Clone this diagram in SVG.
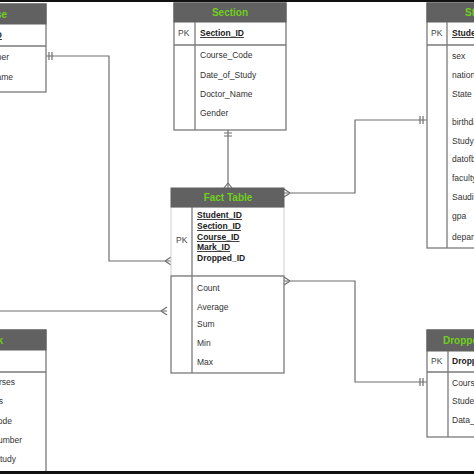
<svg xmlns="http://www.w3.org/2000/svg" width="474" height="474" viewBox="0 0 474 474">
<style>
.box{fill:#fff;stroke:#7a7a7a;stroke-width:1.3}
.faint{fill:#fff;stroke:#d0d0d0;stroke-width:1}
.hd{fill:#616161;stroke:#616161;stroke-width:1}
.ln{fill:none;stroke:#7a7a7a;stroke-width:1.3}
.cn{fill:none;stroke:#6e6e6e;stroke-width:1.2}
.ht{font-family:"Liberation Sans",Arial,sans-serif;font-size:10px;font-weight:bold;fill:#6fd01c}
.t{font-family:"Liberation Sans",Arial,sans-serif;font-size:8.5px;fill:#333}
.k{font-family:"Liberation Sans",Arial,sans-serif;font-size:8.5px;font-weight:bold;fill:#222;text-decoration:underline}
.pk{font-family:"Liberation Sans",Arial,sans-serif;font-size:8.5px;fill:#444}
</style>
<rect x="0" y="0" width="474" height="474" fill="#fff"/>

<g id="connectors">
  <path class="cn" d="M46,56 H109 V261 H171"/>
  <path class="cn" d="M49,52 V60 M52,52 V60"/>
  <path class="cn" d="M165,261 L171,257 M165,261 L171,265"/>
  <path class="cn" d="M228,130 V188"/>
  <path class="cn" d="M224,133 H232 M224,136 H232"/>
  <path class="cn" d="M228,183 L224,188 M228,183 L232,188"/>
  <path class="cn" d="M284,193 H355 V120 H427"/>
  <path class="cn" d="M290,193 L284,189 M290,193 L284,197"/>
  <path class="cn" d="M420,116 V124 M423,116 V124"/>
  <path class="cn" d="M284,281 H355 V382 H427"/>
  <path class="cn" d="M290,281 L284,277 M290,281 L284,285"/>
  <path class="cn" d="M420,378 V386 M423,378 V386"/>
  <path class="cn" d="M0,311 H167"/>
  <path class="cn" d="M161,311 L167,307 M161,311 L167,315"/>
</g>

<g id="course">
  <rect class="box" x="-66" y="4" width="112" height="88"/>
  <rect class="hd" x="-66" y="4" width="112" height="20"/>
  <line class="ln" x1="-66" y1="46" x2="46" y2="46"/>
  <text class="ht" x="7" y="18" text-anchor="end">Course</text>
  <text class="k" x="2" y="38" text-anchor="end">Course_ID</text>
  <text class="t" x="9" y="60" text-anchor="end">Course_Number</text>
  <text class="t" x="13" y="80" text-anchor="end">Course_Name</text>
</g>

<g id="section">
  <rect class="box" x="174" y="3" width="112" height="127"/>
  <rect class="hd" x="174" y="3" width="112" height="19"/>
  <line class="ln" x1="174" y1="45" x2="286" y2="45"/>
  <line class="ln" x1="195" y1="22" x2="195" y2="130"/>
  <text class="ht" x="230" y="16" text-anchor="middle">Section</text>
  <text class="pk" x="178" y="36">PK</text>
  <text class="k" x="200" y="36">Section_ID</text>
  <text class="t" x="200" y="58">Course_Code</text>
  <text class="t" x="200" y="78">Date_of_Study</text>
  <text class="t" x="200" y="97">Doctor_Name</text>
  <text class="t" x="200" y="116">Gender</text>
</g>

<g id="student">
  <rect class="box" x="427" y="3" width="112" height="245"/>
  <rect class="hd" x="427" y="3" width="112" height="19"/>
  <line class="ln" x1="427" y1="45" x2="539" y2="45"/>
  <line class="ln" x1="447" y1="22" x2="447" y2="248"/>
  <text class="ht" x="465" y="16">Student</text>
  <text class="pk" x="431" y="36">PK</text>
  <text class="k" x="452" y="36">Student_ID</text>
  <text class="t" x="452" y="59">sex</text>
  <text class="t" x="452" y="78">nationality</text>
  <text class="t" x="452" y="97">State</text>
  <text class="t" x="452" y="125">birthdate</text>
  <text class="t" x="452" y="144">Study_Year</text>
  <text class="t" x="452" y="162">datofbirth</text>
  <text class="t" x="452" y="181">faculty</text>
  <text class="t" x="452" y="200">Saudi</text>
  <text class="t" x="452" y="219">gpa</text>
  <text class="t" x="452" y="240">department</text>
</g>

<g id="fact">
  <rect class="faint" x="171" y="207" width="113" height="69"/>
  <rect class="box" x="171" y="276" width="113" height="97"/>
  <rect class="hd" x="171" y="188" width="113" height="19"/>
  <line class="ln" x1="192" y1="207" x2="192" y2="373"/>
  <text class="ht" x="228" y="201" text-anchor="middle">Fact Table</text>
  <text class="pk" x="176" y="243">PK</text>
  <text class="k" x="197" y="218">Student_ID</text>
  <text class="k" x="197" y="229">Section_ID</text>
  <text class="k" x="197" y="240">Course_ID</text>
  <text class="k" x="197" y="250">Mark_ID</text>
  <text class="k" x="197" y="261" style="text-decoration:none">Dropped_ID</text>
  <text class="t" x="197" y="291">Count</text>
  <text class="t" x="197" y="310">Average</text>
  <text class="t" x="197" y="327">Sum</text>
  <text class="t" x="197" y="346">Min</text>
  <text class="t" x="197" y="365">Max</text>
</g>

<g id="mark">
  <rect class="box" x="-66" y="330" width="112" height="150"/>
  <rect class="hd" x="-66" y="330" width="112" height="20"/>
  <line class="ln" x1="-66" y1="372" x2="46" y2="372"/>
  <text class="ht" x="3" y="344" text-anchor="end">Mark</text>
  <text class="t" x="15" y="385" text-anchor="end">No_of_Courses</text>
  <text class="t" x="3" y="404" text-anchor="end">Marks</text>
  <text class="t" x="12" y="424" text-anchor="end">Course_Code</text>
  <text class="t" x="22" y="443" text-anchor="end">Student_Number</text>
  <text class="t" x="16" y="462" text-anchor="end">Date_of_Study</text>
</g>

<g id="dropped">
  <rect class="box" x="427" y="330" width="112" height="107"/>
  <rect class="hd" x="427" y="330" width="112" height="21"/>
  <line class="ln" x1="427" y1="372" x2="539" y2="372"/>
  <line class="ln" x1="448" y1="351" x2="448" y2="437"/>
  <text class="ht" x="443" y="344">Dropped</text>
  <text class="pk" x="431" y="364">PK</text>
  <text class="k" x="452" y="364" style="text-decoration:none">Dropped_ID</text>
  <text class="t" x="452" y="386">Course_Code</text>
  <text class="t" x="452" y="404">Student_ID</text>
  <text class="t" x="452" y="423">Data_of_Drop</text>
</g>

<rect x="0" y="0" width="474" height="2" fill="#111"/>
<rect x="0" y="471" width="474" height="3" fill="#111"/>
</svg>
